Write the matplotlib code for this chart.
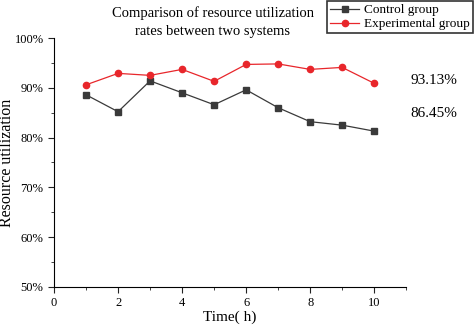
import matplotlib
matplotlib.use('Agg')
import matplotlib.pyplot as plt
from matplotlib.ticker import MultipleLocator, FuncFormatter

plt.rcParams['font.family'] = ['Liberation Serif', 'DejaVu Serif']

hours = [1, 2, 3, 4, 5, 6, 7, 8, 9, 10]
control = [88.6, 85.2, 91.4, 89.0, 86.6, 89.6, 86.0, 83.2, 82.5, 81.3]
experimental = [90.6, 92.9, 92.5, 93.7, 91.3, 94.7, 94.8, 93.7, 94.1, 90.9]
avg_labels = ['93.13%', '86.45%']

fig = plt.figure(figsize=(4.74, 3.25), dpi=100)
ax = fig.add_axes([0.114, 0.117, 0.743, 0.766])

ax.plot(hours, control, color='#3a3a3a', marker='s', markersize=4.5, linewidth=0.9, label='Control group')
ax.plot(hours, experimental, color='#e8262b', marker='o', markersize=4.5, linewidth=0.9, label='Experimental group')

ax.set_xlim(0, 11)
ax.set_ylim(50, 100)
ax.xaxis.set_major_locator(MultipleLocator(2))
ax.xaxis.set_minor_locator(MultipleLocator(1))
ax.yaxis.set_major_locator(MultipleLocator(10))
ax.yaxis.set_minor_locator(MultipleLocator(5))
ax.yaxis.set_major_formatter(FuncFormatter(lambda v, p: '%d%%' % v))
ax.tick_params(which='both', direction='out', labelsize=9, color='#222222')
ax.tick_params(which='major', length=4)
ax.tick_params(which='minor', length=2.5)
for s in ['top', 'right']: ax.spines[s].set_visible(False)

ax.set_xlabel('Time( h)', fontsize=11, labelpad=1)
ax.set_ylabel('Resource utilization', fontsize=11.5)
ax.yaxis.set_label_coords(-0.112, 0.5)
ax.text(0.45, 1.0, 'Comparison of resource utilization\nrates between two systems',
        transform=ax.transAxes, ha='center', va='bottom', fontsize=10.5, linespacing=1.5)

fig.text(0.915, 0.752, avg_labels[0], ha='center', va='center', fontsize=11)
fig.text(0.915, 0.652, avg_labels[1], ha='center', va='center', fontsize=11)

leg = fig.legend(loc='upper right', bbox_to_anchor=(1.0, 1.0), fontsize=9.5, frameon=True,
                 fancybox=False, edgecolor='black', handlelength=2.2, borderpad=0.2,
                 labelspacing=0.15, handletextpad=0.4, borderaxespad=0.1)
leg.get_frame().set_linewidth(1.2)

fig.savefig('out.png', dpi=100)
